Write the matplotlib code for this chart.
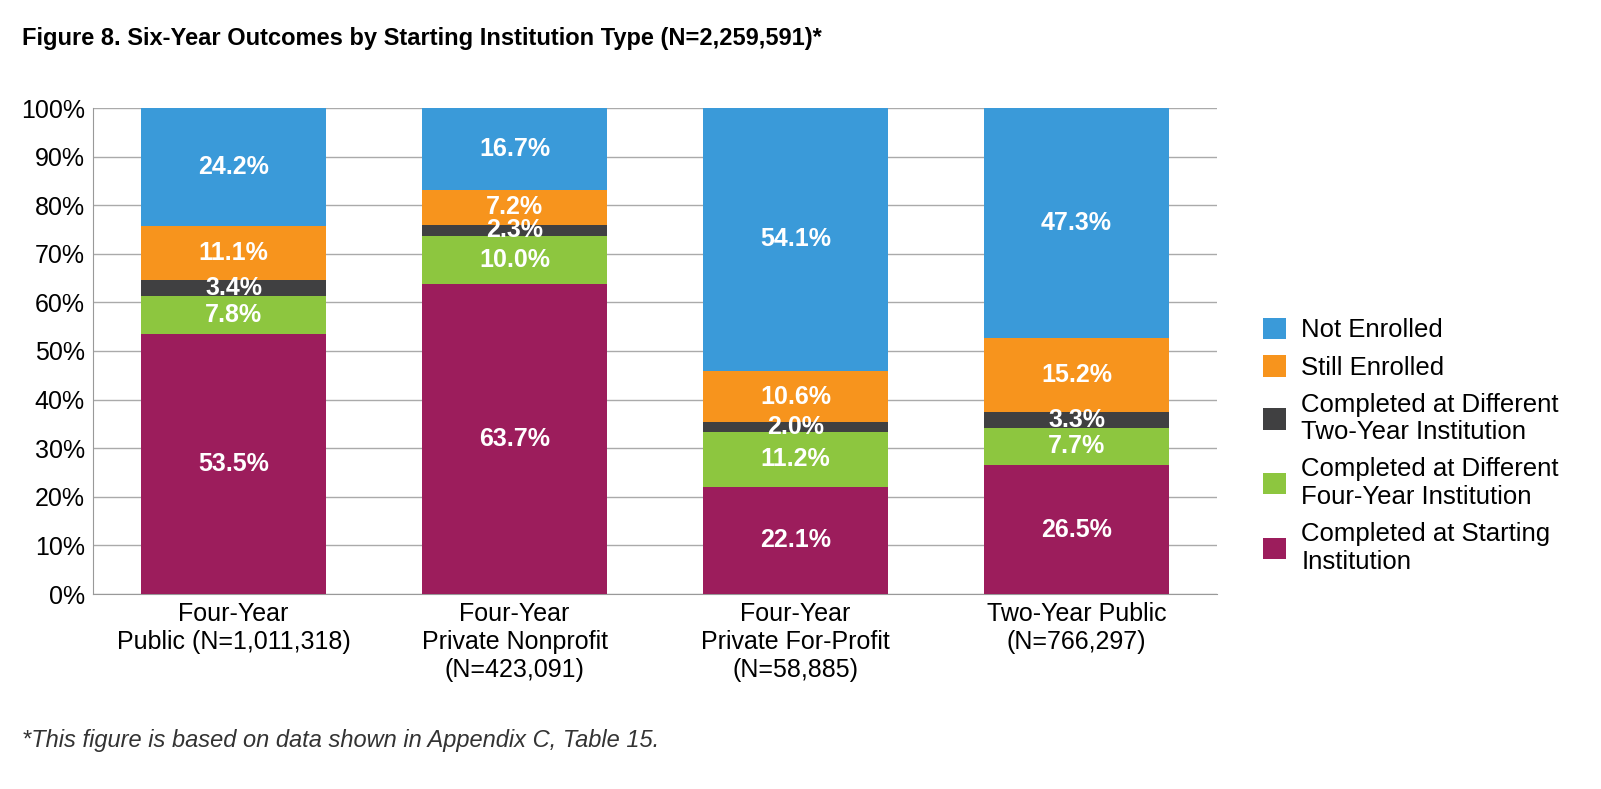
import numpy as np
import matplotlib.pyplot as plt

categories = ["Four-Year\nPublic (N=1,011,318)", "Four-Year\nPrivate Nonprofit\n(N=423,091)",
              "Four-Year\nPrivate For-Profit\n(N=58,885)", "Two-Year Public\n(N=766,297)"]
series = ["Completed at Starting\nInstitution", "Completed at Different\nFour-Year Institution",
          "Completed at Different\nTwo-Year Institution", "Still Enrolled", "Not Enrolled"]
values = [
    [53.5, 63.7, 22.1, 26.5],
    [7.8, 10.0, 11.2, 7.7],
    [3.4, 2.3, 2.0, 3.3],
    [11.1, 7.2, 10.6, 15.2],
    [24.2, 16.7, 54.1, 47.3],
]
colors = ["#9C1D5C", "#8DC63F", "#404041", "#F7941D", "#3A9AD9"]

plt.rcParams['font.family'] = ['Liberation Sans Narrow', 'Liberation Sans', 'DejaVu Sans']

fig = plt.figure(figsize=(16.01, 7.89), dpi=100)
ax = fig.add_axes([93/1601, 1-594/789, 1124/1601, 486/789])

x = np.arange(len(categories))
bottom = np.zeros(len(categories))
for name, vals, c in zip(series, values, colors):
    vals = np.array(vals)
    ax.bar(x, vals, 0.66, bottom=bottom, color=c, label=name, zorder=3)
    for xi, b, v in zip(x, bottom, vals):
        ax.text(xi, b + v / 2, f"{v:.1f}%", ha='center', va='center', color='white',
                fontsize=18, fontweight='bold', zorder=4)
    bottom += vals

ax.set_xlim(-0.5, 3.5)
ax.set_ylim(0, 100)
ax.set_yticks(range(0, 101, 10))
ax.set_yticklabels([f"{v}%" for v in range(0, 101, 10)], fontsize=18)
ax.set_xticks(x)
ax.set_xticklabels(categories, fontsize=18, va='top')
ax.tick_params(axis='both', length=0, pad=6)
ax.grid(axis='y', color='#AAAAAA', linewidth=1, zorder=0)
for s in ['top', 'right']:
    ax.spines[s].set_visible(False)
for s in ['left', 'bottom']:
    ax.spines[s].set_color('#999999')

h, l = ax.get_legend_handles_labels()
ax.legend(h[::-1], l[::-1], loc='center left', bbox_to_anchor=(1.02, 0.305), frameon=False,
          fontsize=18.5, handlelength=0.9, handleheight=0.9, labelspacing=0.5, handletextpad=0.6)

fig.text(22/1601, 1-38/789, "Figure 8. Six-Year Outcomes by Starting Institution Type (N=2,259,591)*",
         fontsize=17, fontweight='bold', family=['Liberation Sans', 'DejaVu Sans'], va='center')
fig.text(22/1601, 1-740/789, "*This figure is based on data shown in Appendix C, Table 15.",
         fontsize=17, style='italic', color='#333333', family=['Liberation Sans', 'DejaVu Sans'], va='center')

fig.savefig("out.png", dpi=100)
